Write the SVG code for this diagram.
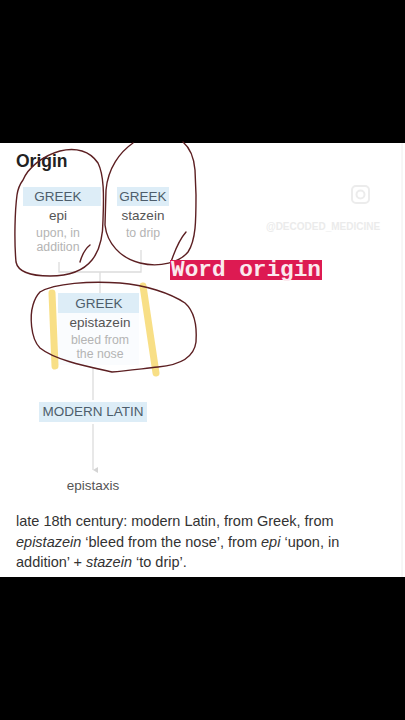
<svg xmlns="http://www.w3.org/2000/svg" width="405" height="720" viewBox="0 0 405 720">
<defs>
<style>
.sans{font-family:"Liberation Sans",Arial,sans-serif}
.lbl{fill:#ddedf7}
.lt{font-size:13.5px;fill:#4d5d6b;text-anchor:middle}
.wd{font-size:13.5px;fill:#555;text-anchor:middle}
.gl{font-size:12.3px;fill:#b4b4b4;text-anchor:middle}
.conn{stroke:#dcdcdc;stroke-width:1.3;fill:none}
.ink{stroke:#5c1f22;stroke-width:1.4;fill:none;stroke-linecap:round;stroke-linejoin:round}
.hl{stroke:#f5d45e;stroke-opacity:0.75;stroke-width:7;stroke-linecap:round;fill:none}
.para{font-size:14.5px;fill:#333}
</style>
<marker id="arr" markerWidth="6" markerHeight="6" refX="3" refY="5" orient="auto" markerUnits="userSpaceOnUse" viewBox="0 0 6 6">
<path d="M0,0 L6,0 L3,5 Z" fill="#d4d4d4"/>
</marker>
</defs>
<rect x="0" y="0" width="405" height="720" fill="#000"/>
<rect x="0" y="143" width="405" height="434" fill="#fff"/>
<line x1="402" y1="143" x2="402" y2="577" stroke="#eeeeee" stroke-width="1"/>

<text x="16" y="167" class="sans" font-size="17.5" font-weight="bold" fill="#222">Origin</text>

<g id="watermark">
<rect x="352" y="186" width="17" height="17" rx="4" fill="none" stroke="#ececec" stroke-width="2"/>
<circle cx="360.5" cy="194.5" r="4" fill="none" stroke="#ececec" stroke-width="2"/>
<text x="323" y="230" class="sans" font-size="10" fill="#ebebeb" text-anchor="middle" font-weight="bold">@DECODED_MEDICINE</text>
</g>

<g id="connectors">
<path class="conn" d="M59,262 V272 H141 V250"/>
<path class="conn" d="M100,272 V293"/>
<path class="conn" d="M93,368 V400"/>
<path class="conn" d="M93,424 V470" marker-end="url(#arr)"/>
</g>

<g id="greek-epi">
<rect class="lbl" x="23" y="187" width="78" height="19"/>
<text class="sans lt" x="58" y="201">GREEK</text>
<text class="sans wd" x="58" y="220">epi</text>
<text class="sans gl" x="58" y="237">upon, in</text>
<text class="sans gl" x="58" y="251">addition</text>
</g>

<g id="greek-stazein">
<rect class="lbl" x="117" y="187" width="52" height="19"/>
<text class="sans lt" x="143" y="201">GREEK</text>
<text class="sans wd" x="143" y="220">stazein</text>
<text class="sans gl" x="143" y="237">to drip</text>
</g>

<g id="greek-epistazein">
<rect x="58" y="313" width="81" height="52" fill="#fafcfe"/>
<rect class="lbl" x="58" y="293" width="81" height="20"/>
<text class="sans lt" x="99" y="308">GREEK</text>
<text class="sans wd" x="100" y="327">epistazein</text>
<text class="sans gl" x="100" y="344">bleed from</text>
<text class="sans gl" x="100" y="358">the nose</text>
</g>

<g id="modern-latin">
<rect class="lbl" x="39" y="402" width="108" height="20"/>
<text class="sans lt" x="93" y="416" font-size="13">MODERN LATIN</text>
</g>

<g id="epistaxis">
<text class="sans wd" x="93" y="490">epistaxis</text>
</g>

<g id="highlights">
<path class="hl" d="M52,293 L55,366"/>
<path class="hl" d="M143,286 L156,373"/>
</g>

<g id="annotations">
<path class="ink" d="M23,180 C28,168 42,156 60,151 C76,147 90,151 98,163 C104,175 104,195 103,220 C103,238 100,250 92,260 C84,270 70,276 50,276 C30,276 18,272 16,262 C14,240 15,210 17,195 C18,188 20,184 23,180"/>
<path class="ink" d="M80,262 C82,255 85,249 90,245"/>
<path class="ink" d="M133,143 C120,152 108,168 106,190 L105,225 C107,243 120,258 140,263 C160,268 180,262 188,252 C196,240 196,220 196,195 L195,170 C194,158 190,148 183,142"/>
<path class="ink" d="M171,262 C175,250 179,240 186,232"/>
<path class="ink" d="M40,292 C55,283 90,281 120,283 C145,285 170,293 185,303 C195,312 197,328 196,342 C194,358 180,365 158,367 C140,369 125,371 112,372 C85,366 55,360 40,348 C30,338 30,315 33,305 C35,298 38,294 40,292"/>
</g>

<g id="word-origin">
<rect x="170" y="260" width="152" height="20" fill="#dd1a52"/>
<text x="171" y="276" font-family="'Liberation Mono','Courier New',monospace" font-size="22" font-weight="bold" fill="#fbe9ee" textLength="150" lengthAdjust="spacingAndGlyphs">Word origin</text>
</g>

<g id="paragraph" class="sans para">
<text x="16" y="526">late 18th century: modern Latin, from Greek, from</text>
<text x="16" y="547"><tspan font-style="italic">epistazein</tspan> ‘bleed from the nose’, from <tspan font-style="italic">epi</tspan> ‘upon, in</text>
<text x="16" y="567">addition’ + <tspan font-style="italic">stazein</tspan> ‘to drip’.</text>
</g>
</svg>
